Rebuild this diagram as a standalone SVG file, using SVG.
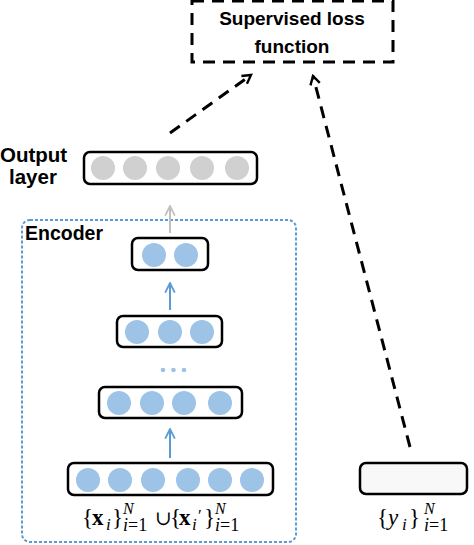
<svg xmlns="http://www.w3.org/2000/svg" width="474" height="545" viewBox="0 0 474 545">
<defs>
<style>
.lbl{font-family:"Liberation Sans",Arial,sans-serif;font-weight:bold;fill:#000}
.box{fill:#fff;stroke:#000;stroke-width:2.5}
.blue{fill:#9DC3E6}
.gray{fill:#D0D0D0}
.math{font-family:"Liberation Serif","DejaVu Serif",serif;fill:#000}
.dash{stroke:#000;stroke-width:3;stroke-dasharray:12 8;fill:none}
</style>
<marker id="ahBlack" viewBox="0 0 10 10" refX="8" refY="5" markerWidth="4" markerHeight="4" orient="auto" markerUnits="strokeWidth">
<path d="M1,1 L8,5 L1,9" fill="none" stroke="#000" stroke-width="2"/>
</marker>
<marker id="ahBlue" viewBox="0 0 10 10" refX="9" refY="5" markerWidth="6" markerHeight="6" orient="auto" markerUnits="strokeWidth">
<path d="M1,1 L9,5 L1,9" fill="none" stroke="#5B9BD5" stroke-width="1.5"/>
</marker>
<marker id="ahGray" viewBox="0 0 10 10" refX="9" refY="5" markerWidth="6" markerHeight="6" orient="auto" markerUnits="strokeWidth">
<path d="M1,1 L9,5 L1,9" fill="none" stroke="#C0C0C0" stroke-width="1.5"/>
</marker>
</defs>
<rect width="474" height="545" fill="#fff"/>

<g id="encoder">
<rect x="22" y="220" width="274" height="322" rx="8" fill="none" stroke="#5B9BD5" stroke-width="2" stroke-dasharray="3 2"/>
<text class="lbl" x="25" y="240" font-size="19.5">Encoder</text>
</g>

<g id="loss">
<rect x="192" y="1" width="201" height="61" fill="none" class="dash" stroke-width="3"/>
<text class="lbl" x="292" y="25" font-size="19" text-anchor="middle">Supervised loss</text>
<text class="lbl" x="292" y="53" font-size="19" text-anchor="middle">function</text>
</g>

<g id="output-layer">
<text class="lbl" x="0" y="162" font-size="20.5">Output</text>
<text class="lbl" x="9" y="184" font-size="20.5">layer</text>
<rect class="box" x="84" y="152" width="173" height="32" rx="6"/>
<circle class="gray" cx="103" cy="168" r="12"/>
<circle class="gray" cx="135" cy="168" r="12"/>
<circle class="gray" cx="168" cy="168" r="12"/>
<circle class="gray" cx="202" cy="168" r="12"/>
<circle class="gray" cx="237" cy="168" r="12"/>
</g>

<g id="layer-2">
<rect class="box" x="132" y="238" width="76" height="32" rx="6"/>
<circle class="blue" cx="154" cy="255" r="12"/>
<circle class="blue" cx="186" cy="255" r="12"/>
</g>

<g id="layer-3">
<rect class="box" x="117" y="316" width="105" height="31" rx="6"/>
<circle class="blue" cx="137" cy="332" r="12"/>
<circle class="blue" cx="170" cy="332" r="12"/>
<circle class="blue" cx="202" cy="332" r="12"/>
</g>

<g id="ellipsis">
<circle cx="163" cy="370" r="2.3" fill="#9DC3E6"/>
<circle cx="173.5" cy="370" r="2.3" fill="#9DC3E6"/>
<circle cx="184" cy="370" r="2.3" fill="#9DC3E6"/>
</g>

<g id="layer-4">
<rect class="box" x="99" y="387" width="143" height="31" rx="6"/>
<circle class="blue" cx="119" cy="403" r="12"/>
<circle class="blue" cx="152" cy="403" r="12"/>
<circle class="blue" cx="184" cy="403" r="12"/>
<circle class="blue" cx="220" cy="403" r="12"/>
</g>

<g id="input-layer">
<rect class="box" x="68" y="463" width="205" height="32" rx="6"/>
<circle class="blue" cx="88" cy="480" r="12"/>
<circle class="blue" cx="120" cy="480" r="12"/>
<circle class="blue" cx="153" cy="480" r="12"/>
<circle class="blue" cx="188" cy="480" r="12"/>
<circle class="blue" cx="220" cy="480" r="12"/>
<circle class="blue" cx="252" cy="480" r="12"/>
<text class="math" y="525" font-size="23"><tspan x="82">{</tspan><tspan x="92" font-weight="bold">x</tspan><tspan x="106" y="530" font-size="17" font-style="italic">i</tspan><tspan x="112" y="525">}</tspan><tspan x="123" y="514" font-size="16" font-style="italic">N</tspan><tspan x="123" y="531" font-size="18"><tspan font-style="italic">i</tspan>=1</tspan><tspan x="155" y="525" font-size="20">∪</tspan><tspan x="170" y="525">{</tspan><tspan x="179" font-weight="bold">x</tspan><tspan x="192" y="530" font-size="17" font-style="italic">i</tspan><tspan x="198" y="521" font-size="17">′</tspan><tspan x="204" y="525">}</tspan><tspan x="215" y="514" font-size="16" font-style="italic">N</tspan><tspan x="215" y="531" font-size="18"><tspan font-style="italic">i</tspan>=1</tspan></text>
</g>

<g id="labels-y">
<rect x="360" y="463" width="107" height="31" rx="6" fill="#F8F8F8" stroke="#000" stroke-width="2.5"/>
<text class="math" y="525" font-size="23"><tspan x="377">{</tspan><tspan x="388" font-style="italic">y</tspan><tspan x="402" y="530" font-size="17" font-style="italic">i</tspan><tspan x="409" y="525">}</tspan><tspan x="424" y="514" font-size="16" font-style="italic">N</tspan><tspan x="424" y="531" font-size="18"><tspan font-style="italic">i</tspan>=1</tspan></text>
</g>

<g id="connectors">
<line x1="170" y1="458" x2="170" y2="429" stroke="#5B9BD5" stroke-width="2" marker-end="url(#ahBlue)"/>
<line x1="170" y1="310" x2="170" y2="283" stroke="#5B9BD5" stroke-width="2" marker-end="url(#ahBlue)"/>
<line x1="170" y1="233" x2="170" y2="206" stroke="#C0C0C0" stroke-width="2" marker-end="url(#ahGray)"/>
<line class="dash" x1="170" y1="133" x2="251" y2="75" marker-end="url(#ahBlack)"/>
<line class="dash" x1="410" y1="447" x2="313" y2="76" marker-end="url(#ahBlack)"/>
</g>
</svg>
